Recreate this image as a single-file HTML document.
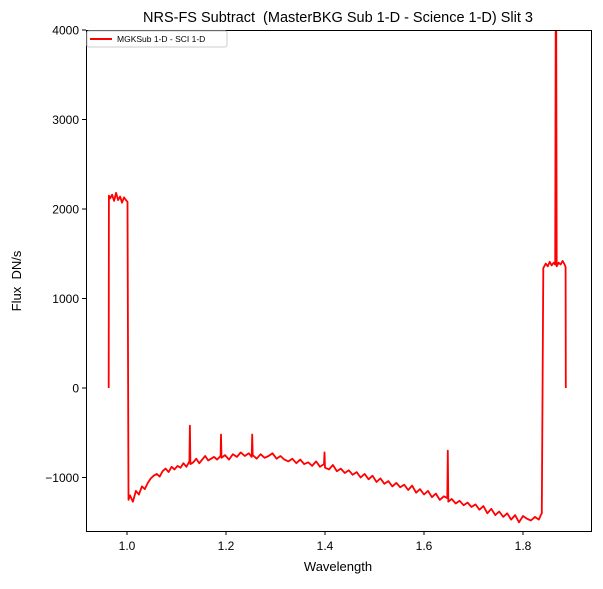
<!DOCTYPE html>
<html><head><meta charset="utf-8"><style>
body{margin:0;background:#fff;width:603px;height:584px;overflow:hidden;font-family:"Liberation Sans",sans-serif}
text{white-space:pre}
</style></head><body>
<svg id="chart" width="603" height="584" xmlns="http://www.w3.org/2000/svg" font-family="Liberation Sans, DejaVu Sans, sans-serif">
<text x="338" y="22" font-size="14.5" text-anchor="middle" xml:space="preserve">NRS-FS Subtract  (MasterBKG Sub 1-D - Science 1-D) Slit 3</text>
<g id="plot"></g>
<rect x="86.5" y="30.5" width="505" height="501" fill="none" stroke="#000" stroke-width="1"/>
<g id="ticks"></g>
<text x="338" y="571" font-size="13" text-anchor="middle">Wavelength</text>
<text transform="translate(21,281) rotate(-90)" font-size="13" text-anchor="middle" xml:space="preserve">Flux  DN/s</text>
<g>
<rect x="87" y="31" width="140" height="16" fill="#fff" stroke="#ccc" rx="2"/>
<line x1="90" y1="39" x2="112" y2="39" stroke="red" stroke-width="2"/>
<text x="117" y="42" font-size="8.5">MGKSub 1-D - SCI 1-D</text>
</g>
</svg>
<script>
const wavelengths=[0.963,0.9635,0.966,0.970,0.974,0.978,0.982,0.986,0.990,0.994,0.998,1.001,1.003,1.006,1.012,1.018,1.024,1.030,1.036,1.042,1.048,1.054,1.060,1.066,1.072,1.078,1.084,1.090,1.096,1.102,1.108,1.114,1.120,1.126,1.127,1.128,1.134,1.140,1.146,1.152,1.158,1.164,1.170,1.176,1.182,1.189,1.190,1.191,1.198,1.206,1.214,1.222,1.230,1.238,1.246,1.252,1.253,1.254,1.262,1.270,1.278,1.286,1.294,1.302,1.310,1.318,1.326,1.334,1.342,1.350,1.358,1.366,1.374,1.382,1.390,1.398,1.399,1.400,1.408,1.416,1.424,1.432,1.440,1.448,1.456,1.464,1.472,1.480,1.488,1.496,1.504,1.512,1.520,1.528,1.536,1.544,1.552,1.560,1.568,1.576,1.584,1.592,1.600,1.608,1.616,1.624,1.632,1.640,1.647,1.648,1.649,1.656,1.664,1.672,1.680,1.688,1.696,1.704,1.712,1.720,1.728,1.736,1.744,1.752,1.760,1.768,1.776,1.784,1.792,1.800,1.808,1.816,1.824,1.832,1.836,1.838,1.841,1.846,1.850,1.854,1.858,1.862,1.865,1.866,1.867,1.868,1.872,1.876,1.880,1.884,1.886,1.8865];
const fluxValues=[0,2150,2120,2160,2090,2180,2100,2140,2070,2130,2100,2080,-1250,-1200,-1270,-1150,-1190,-1100,-1130,-1060,-1010,-980,-960,-990,-930,-900,-940,-880,-910,-870,-890,-840,-880,-820,-420,-850,-830,-790,-840,-800,-760,-810,-790,-770,-800,-760,-520,-780,-750,-800,-740,-770,-720,-760,-730,-770,-520,-750,-790,-740,-780,-760,-730,-790,-760,-800,-820,-790,-840,-800,-850,-830,-870,-820,-880,-850,-720,-890,-910,-860,-930,-900,-950,-920,-970,-940,-1000,-960,-1020,-980,-1050,-1010,-1070,-1040,-1100,-1060,-1110,-1080,-1140,-1090,-1170,-1130,-1190,-1150,-1220,-1180,-1250,-1210,-1230,-700,-1270,-1240,-1290,-1260,-1310,-1280,-1330,-1300,-1360,-1320,-1400,-1350,-1420,-1380,-1440,-1400,-1470,-1420,-1500,-1430,-1460,-1480,-1440,-1470,-1420,-1400,1340,1390,1360,1410,1370,1400,1380,4100,4100,1360,1400,1380,1420,1380,1350,0];
const xTicks=[1.0,1.2,1.4,1.6,1.8];
const xTickLabels=["1.0","1.2","1.4","1.6","1.8"];
const yTicks=[-1000,0,1000,2000,3000,4000];
const yTickLabels=["\u22121000","0","1000","2000","3000","4000"];
const X=v=>127+(v-1.0)*495;
const Y=v=>388-v*0.0895;
const NS="http://www.w3.org/2000/svg";
const plot=document.getElementById('plot');
const clip=document.createElementNS(NS,'clipPath');clip.id='c';
const cr=document.createElementNS(NS,'rect');
cr.setAttribute('x',86.5);cr.setAttribute('y',30.5);cr.setAttribute('width',505);cr.setAttribute('height',501);
clip.appendChild(cr);plot.appendChild(clip);
const p=document.createElementNS(NS,'path');


p.setAttribute('d',wavelengths.map((w,i)=>(i?'L':'M')+X(w).toFixed(1)+','+Y(fluxValues[i]).toFixed(1)).join(''));
p.setAttribute('fill','none');p.setAttribute('stroke','red');p.setAttribute('stroke-width','1.8');p.setAttribute('stroke-linejoin','round');
p.setAttribute('clip-path','url(#c)');
plot.appendChild(p);
const tg=document.getElementById('ticks');
xTicks.forEach((t,i)=>{
 const l=document.createElementNS(NS,'line');
 
 
 l.setAttribute('x1',X(t));l.setAttribute('x2',X(t));l.setAttribute('y1',531);l.setAttribute('y2',535);l.setAttribute('stroke','#000');
 tg.appendChild(l);
 const tx=document.createElementNS(NS,'text');
 
 
 tx.setAttribute('x',X(t));tx.setAttribute('y',550);tx.setAttribute('font-size','12');tx.setAttribute('text-anchor','middle');
 tx.textContent=xTickLabels[i];tg.appendChild(tx);
});
yTicks.forEach((t,i)=>{
 const l=document.createElementNS(NS,'line');
 
 
 l.setAttribute('x1',82);l.setAttribute('x2',86);l.setAttribute('y1',Y(t));l.setAttribute('y2',Y(t));l.setAttribute('stroke','#000');
 tg.appendChild(l);
 const tx=document.createElementNS(NS,'text');
 
 
 tx.setAttribute('x',79);tx.setAttribute('y',Y(t)+4.5);tx.setAttribute('font-size','12');tx.setAttribute('text-anchor','end');
 tx.textContent=yTickLabels[i];tg.appendChild(tx);
});
</script>
</body></html>
